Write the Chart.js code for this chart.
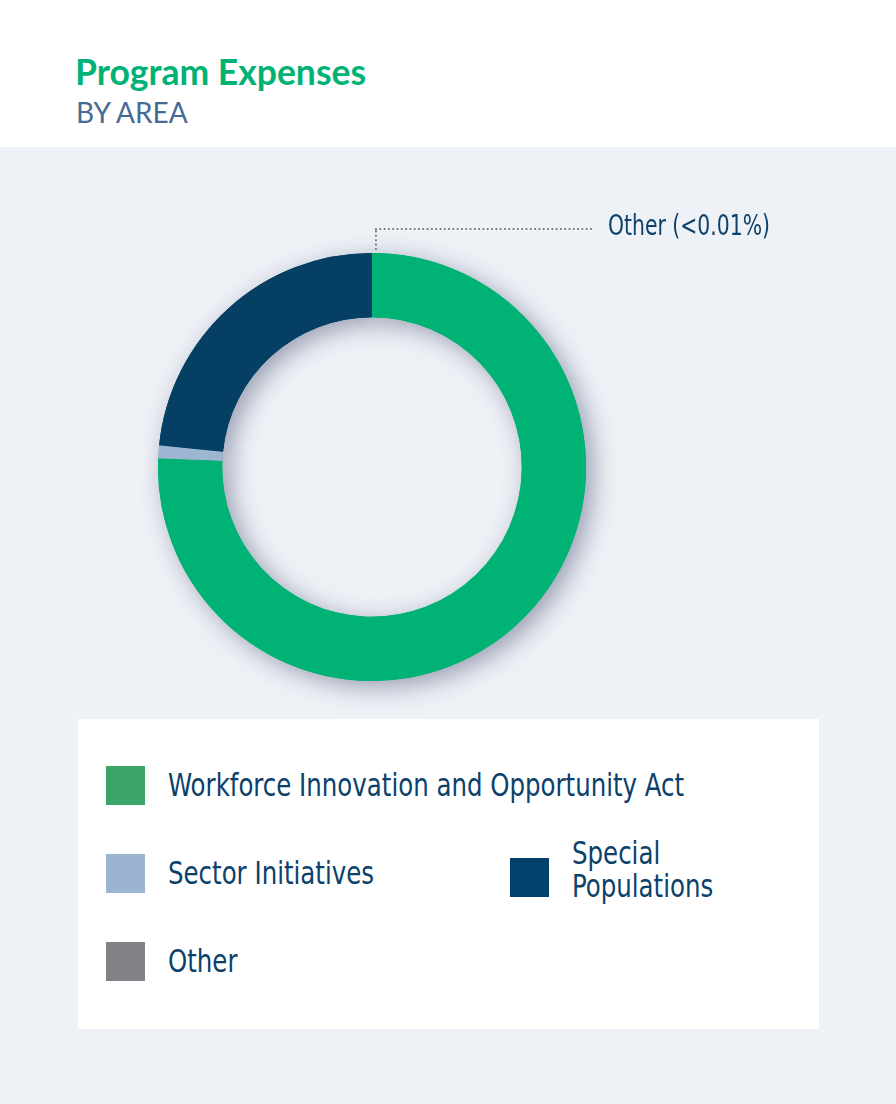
<!DOCTYPE html>
<html>
<head>
<meta charset="utf-8">
<script src="https://cdn.jsdelivr.net/npm/chart.js@4/dist/chart.umd.min.js"></script>
<style>
  html, body { margin: 0; padding: 0; }
  body { width: 896px; height: 1104px; position: relative; background: #ffffff; overflow: hidden; }
  #panel { position: absolute; left: 0; top: 147px; width: 896px; height: 957px; background: #eef1f6; }
  #title { position: absolute; left: 75px; top: 51px; font-family: Lato, "Open Sans", sans-serif; font-weight: 700; font-size: 35.5px; color: #00b274; line-height: 42px; margin: 0; }
  #subtitle { position: absolute; left: 76px; top: 95px; font-family: Lato, "Open Sans", sans-serif; font-weight: 400; font-size: 28px; color: #456b95; line-height: 34px; margin: 0; }
  #chartWrap { position: absolute; left: 0; top: 167px; width: 896px; height: 600px; }
  #legend { position: absolute; left: 78px; top: 719px; width: 741px; height: 310px; background: #ffffff; }
  .item { position: absolute; display: flex; align-items: center; }
  .item.top { align-items: flex-start; }
  .sw { width: 39px; height: 39px; flex: none; }
  .lbl { font-family: "DejaVu Sans Condensed", "Liberation Sans Narrow", Roboto, sans-serif; font-stretch: condensed; font-size: 32px; color: #0b416a; line-height: 33px; margin-left: 23px; transform: scaleX(0.85); transform-origin: 0 50%; white-space: nowrap; }
</style>
</head>
<body>
<div id="panel"></div>
<div id="title">Program Expenses</div>
<div id="subtitle">BY AREA</div>
<div id="chartWrap"><canvas id="c" width="896" height="600"></canvas></div>
<div id="legend"></div>
<script>
const categories = ["Workforce Innovation and Opportunity Act", "Sector Initiatives", "Special Populations", "Other"];
const legendLabels = ["Workforce Innovation and Opportunity Act", "Sector Initiatives", "Special<br>Populations", "Other"];
const values = [75.65, 0.97, 23.37, 0.005];
const sliceColors = ["#00b274", "#9db6d2", "#053f63", "#818286"];
const legendColors = ["#3aa567", "#9bb4cf", "#02416b", "#818286"];
const calloutText = "Other (<0.01%)";

// legend (HTML)
const legendPos = [
  {left: 28, top: 47, top2: false},
  {left: 28, top: 135, top2: false},
  {left: 432, top: 118, top2: true},
  {left: 28, top: 223, top2: false}
];
const lg = document.getElementById('legend');
categories.forEach((c, i) => {
  const d = document.createElement('div');
  d.className = 'item' + (legendPos[i].top2 ? ' top' : '');
  d.style.left = legendPos[i].left + 'px';
  d.style.top = legendPos[i].top + 'px';
  const swStyle = 'background:' + legendColors[i] + (legendPos[i].top2 ? ';margin-top:21px' : '');
  d.innerHTML = '<div class="sw" style="' + swStyle + '"></div><div class="lbl">' + legendLabels[i] + '</div>';
  lg.appendChild(d);
});

const shadowPlugin = {
  id: 'shadow',
  beforeDatasetsDraw(chart) {
    const ctx = chart.ctx;
    const meta = chart.getDatasetMeta(0);
    ctx.save();
    ctx.shadowColor = 'rgba(70,78,115,0.5)';
    ctx.shadowBlur = 24;
    ctx.shadowOffsetX = 7;
    ctx.shadowOffsetY = 6;
    meta.data.forEach(a => a.draw(ctx));
    ctx.restore();
  }
};

const calloutPlugin = {
  id: 'callout',
  afterDraw(chart) {
    const ctx = chart.ctx;
    const arc = chart.getDatasetMeta(0).data[3];
    const mid = (arc.startAngle + arc.endAngle) / 2;
    const x0 = arc.x + Math.cos(mid) * arc.outerRadius + 4;
    const y0 = arc.y + Math.sin(mid) * arc.outerRadius - 4;
    const yTop = 62;
    const xEnd = 592;
    ctx.save();
    ctx.fillStyle = '#6e6f73';
    for (let y = y0; y > yTop; y -= 4.4) {
      ctx.beginPath(); ctx.arc(x0, y, 1.05, 0, Math.PI * 2); ctx.fill();
    }
    for (let x = x0; x <= xEnd; x += 4.3) {
      ctx.beginPath(); ctx.arc(x, yTop, 1.05, 0, Math.PI * 2); ctx.fill();
    }
    ctx.fillStyle = '#0b416a';
    ctx.font = '28px "DejaVu Sans Condensed", "Liberation Sans Narrow", Roboto, sans-serif';
    ctx.textBaseline = 'middle';
    const w = ctx.measureText(calloutText).width;
    ctx.translate(608, yTop - 1);
    ctx.scale(162 / w, 1);
    ctx.fillText(calloutText, 0, 0);
    ctx.restore();
  }
};

new Chart(document.getElementById('c'), {
  type: 'doughnut',
  data: {
    labels: categories,
    datasets: [{
      data: values,
      backgroundColor: sliceColors,
      borderWidth: 0,
      hoverOffset: 0
    }]
  },
  options: {
    responsive: false,
    animation: false,
    cutout: '70%',
    rotation: 0,
    layout: { padding: { left: 158, right: 310, top: 86, bottom: 86 } },
    plugins: { legend: { display: false }, tooltip: { enabled: false } }
  },
  plugins: [shadowPlugin, calloutPlugin]
});
</script>
</body>
</html>
